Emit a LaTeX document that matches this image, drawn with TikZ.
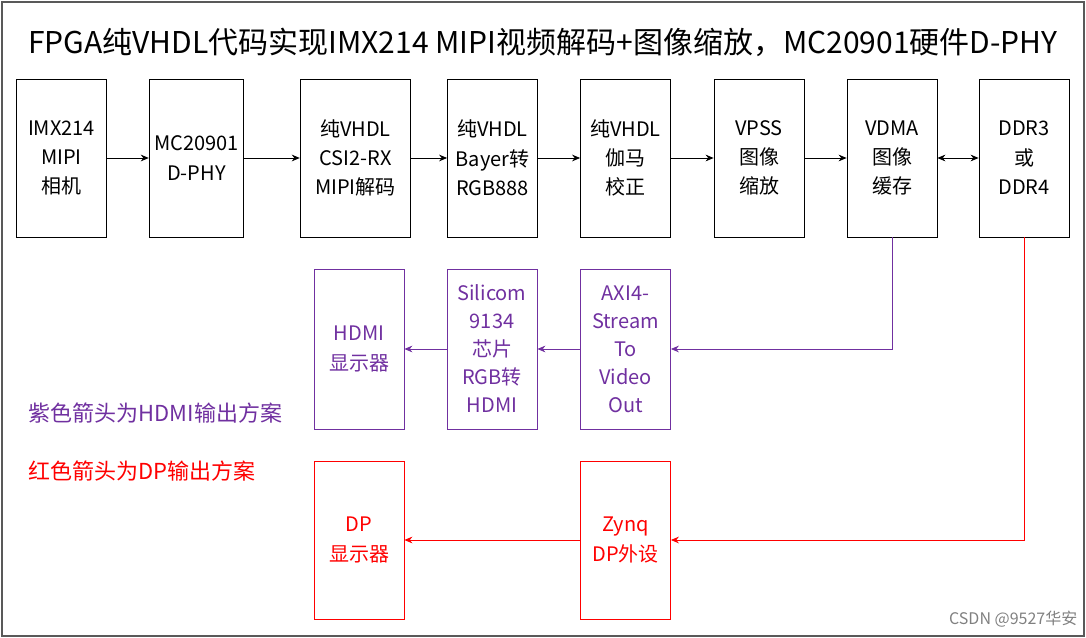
\documentclass[tikz,border=0pt]{standalone}
\usepackage{fontspec}
\setmainfont{Noto Sans CJK SC}
\usetikzlibrary{arrows.meta}
\definecolor{pur}{HTML}{7030A0}
\begin{document}
\begin{tikzpicture}[x=0.75pt,y=-0.75pt,
  box/.style={draw,line width=0.6pt,minimum width=67.5pt,minimum height=118.5pt,align=center,font=\fontsize{15}{22}\selectfont,inner sep=1pt},
  pbox/.style={box,draw=pur,text=pur},
  rbox/.style={box,draw=red,text=red},
  arr/.style={-{Stealth[length=6pt,width=5pt]},line width=0.6pt}]
\useasboundingbox (0,0) rectangle (1086,638);
\draw[line width=0.8pt,gray!70!black] (2,2) rectangle (1084,636);
\node[font=\fontsize{22.5}{24}\selectfont] (t) at (543,42) {FPGA纯VHDL代码实现IMX214 MIPI视频解码+图像缩放，MC20901硬件D-PHY};
\node[box] (b1) at (61.5,158) {IMX214\\MIPI\\相机};
\node[box,minimum width=71pt] (b2) at (196.5,158) {MC20901\\D-PHY};
\node[box,minimum width=83pt] (b3) at (355.5,158) {纯VHDL\\CSI2-RX\\MIPI解码};
\node[box] (b4) at (492.5,158) {纯VHDL\\Bayer转\\RGB888};
\node[box] (b5) at (625.5,158) {纯VHDL\\伽马\\校正};
\node[box] (b6) at (759,158) {VPSS\\图像\\缩放};
\node[box] (b7) at (892,158) {VDMA\\图像\\缓存};
\node[box] (b8) at (1024,158) {DDR3\\或\\DDR4};
\foreach \a/\b in {b1/b2,b2/b3,b3/b4,b4/b5,b5/b6,b6/b7} \draw[arr] (\a) -- (\b);
\draw[{Stealth[length=6pt,width=5pt]}-{Stealth[length=6pt,width=5pt]},line width=0.6pt] (b7) -- (b8);
\node[pbox,minimum height=120pt] (h1) at (359,349) {HDMI\\显示器};
\node[pbox,minimum height=120pt,font=\fontsize{15}{21}\selectfont] (h2) at (492,349) {Silicom\\9134\\芯片\\RGB转\\HDMI};
\node[pbox,minimum height=120pt,font=\fontsize{15}{21}\selectfont] (h3) at (625.5,349) {AXI4-\\Stream\\To\\Video\\Out};
\node[rbox] (d1) at (359,540) {DP\\显示器};
\node[rbox] (d2) at (625.5,540) {Zynq\\DP外设};
\draw[arr,pur] (b7.south) |- (h3.east);
\draw[arr,pur] (h3) -- (h2);
\draw[arr,pur] (h2) -- (h1);
\draw[arr,red] (b8.south) |- (d2.east);
\draw[arr,red] (d2) -- (d1);
\node[pur,anchor=west,font=\fontsize{16.5}{18}\selectfont] (l1) at (24,413) {紫色箭头为HDMI输出方案};
\node[red,anchor=west,font=\fontsize{16.5}{18}\selectfont] (l2) at (24,471) {红色箭头为DP输出方案};
\node[gray,anchor=east,font=\fontsize{12}{14}\selectfont] (w) at (1082,619) {CSDN @9527华安};
\end{tikzpicture}
\end{document}
